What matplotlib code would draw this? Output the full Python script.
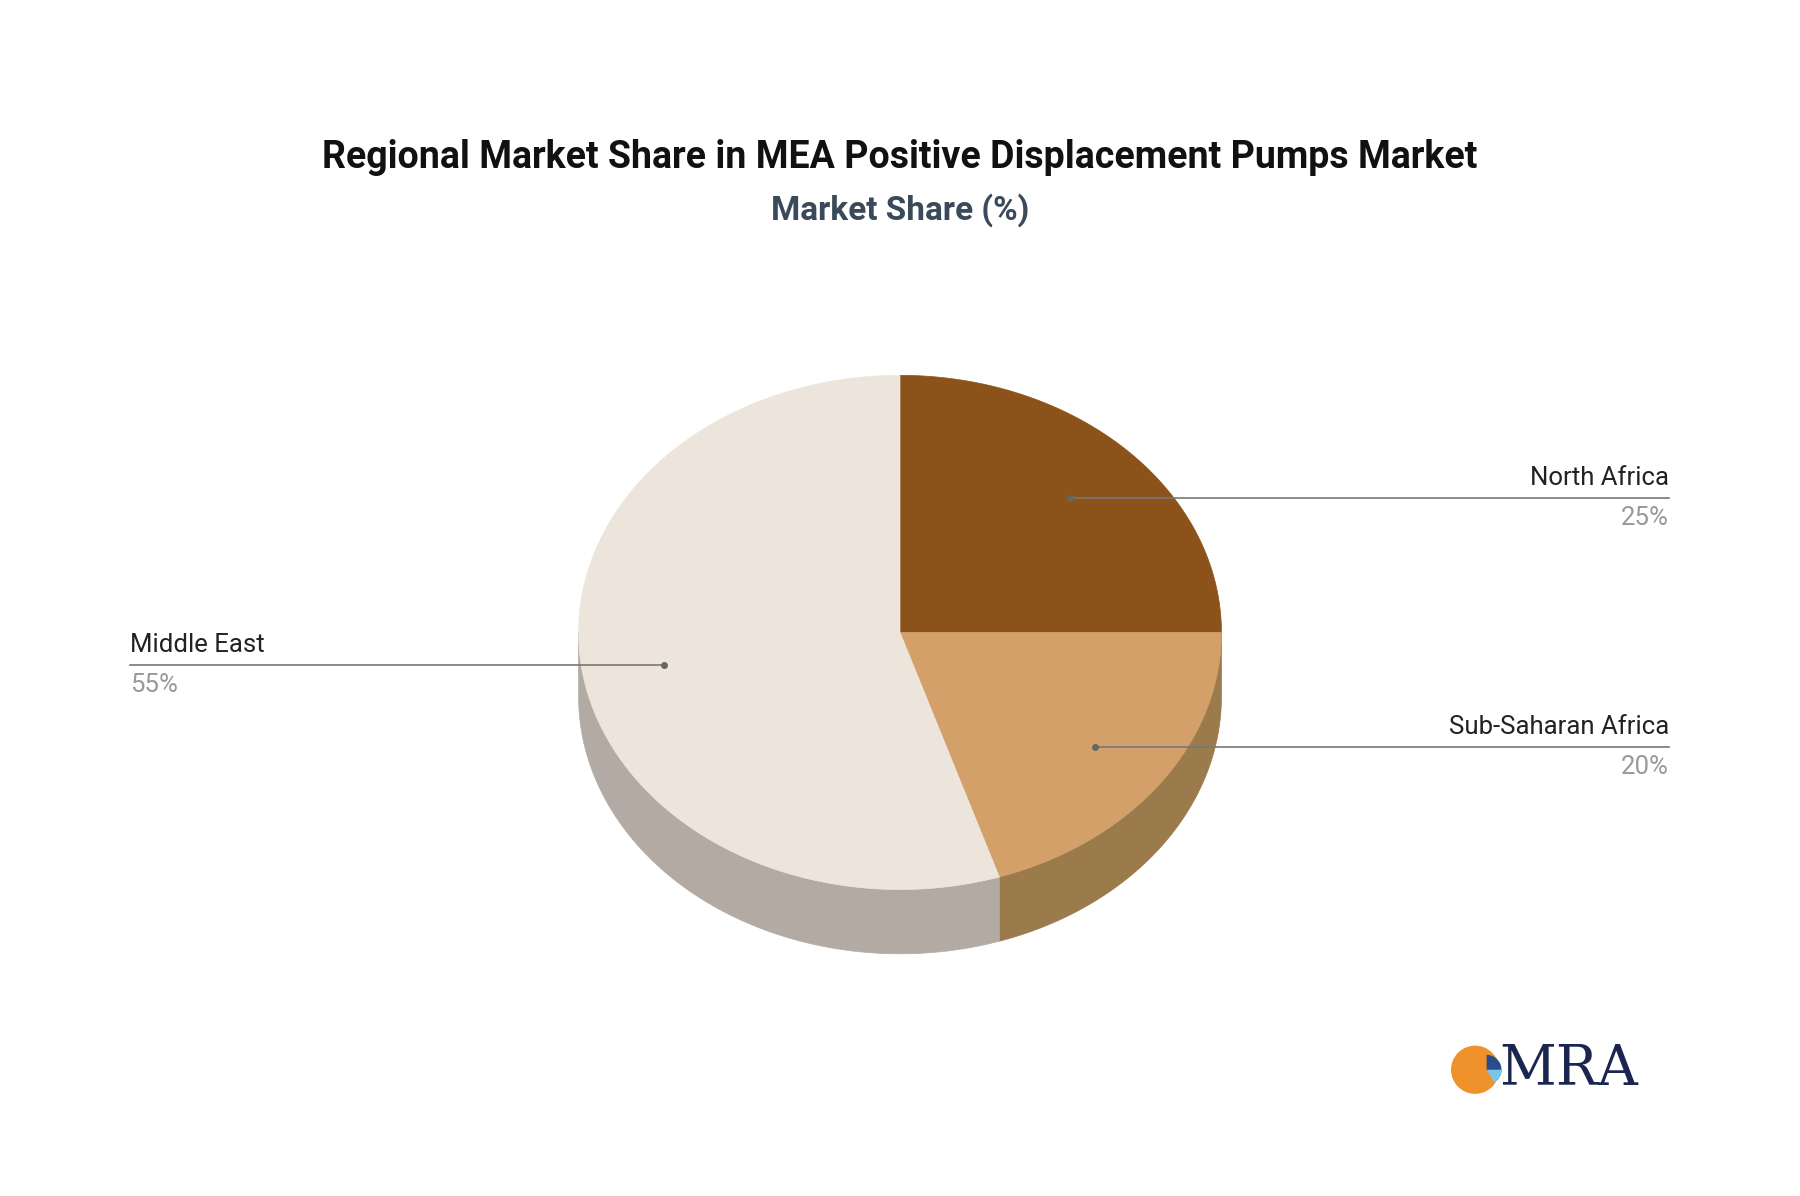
import numpy as np
import matplotlib
matplotlib.use("Agg")
import matplotlib.pyplot as plt
from matplotlib.patches import Polygon, Wedge

regions = ["North Africa", "Sub-Saharan Africa", "Middle East"]
shares = [25, 20, 55]
top_colors = ["#8B5319", "#D2A068", "#EDE5DC"]
side_colors = ["#7A4A18", "#9B7A4C", "#B3ABA3"]

W, H = 1568, 1042
fig = plt.figure(figsize=(18, 11.96), dpi=100)
ax = fig.add_axes([0, 0, 1, 1])
ax.set_xlim(0, W); ax.set_ylim(H, 0); ax.axis("off")
plt.rcParams['font.family'] = ['Roboto', 'DejaVu Sans']

cx, cy, rx, ry, depth = 784, 551, 280, 224, 56

def pt(a, dy=0):
    r = np.radians(a)
    return cx + rx*np.cos(r), cy - ry*np.sin(r) + dy

bounds = []
start = 90.0
for s in shares:
    end = start - 360*s/100
    bounds.append((start, end))
    start = end

for (a0, a1), c in zip(bounds, side_colors):
    for off in (0, -360):
        lo, hi = max(a1+off, -180), min(a0+off, 0)
        if lo < hi:
            ang = np.linspace(hi, lo, 100)
            top = [pt(a) for a in ang]
            bot = [pt(a, depth) for a in ang[::-1]]
            ax.add_patch(Polygon(top+bot, closed=True, fc=c, ec=c, lw=0.5))

for (a0, a1), c in zip(bounds, top_colors):
    ang = np.linspace(a0, a1, 200)
    pts = [(cx, cy)] + [pt(a) for a in ang]
    ax.add_patch(Polygon(pts, closed=True, fc=c, ec=c, lw=0.5))

label_info = [
    ((932, 434), 1454, "right"),
    ((954, 651), 1454, "right"),
    ((578, 579), 113, "left"),
]
for (name, s), ((dx, dy), lx, ha) in zip(zip(regions, shares), label_info):
    ax.plot([dx, lx], [dy, dy], color="#777777", lw=1.2)
    ax.plot(dx, dy, 'o', color="#666666", ms=4)
    ax.text(lx, dy-7, name, ha=ha, va="bottom", fontsize=18.5, color="#222222")
    ax.text(lx, dy+7, f"{s}%", ha=ha, va="top", fontsize=18.5, color="#999999")

ax.text(784, 137, "Regional Market Share in MEA Positive Displacement Pumps Market",
        ha="center", va="center", fontsize=27, fontweight="bold", color="#111111")
ax.text(784, 183, "Market Share (%)", ha="center", va="center", fontsize=24,
        fontweight="bold", color="#3B4A5A")

ax.add_patch(Wedge((1285, 932), 21, 0, 360, fc="#F0922B", ec="none"))
ax.add_patch(Wedge((1295, 932), 13, -90, 45, fc="#2B4C8C", ec="none"))
ax.add_patch(Wedge((1295, 932), 13, 0, 60, fc="#7CC4E8", ec="none"))
ax.text(1306, 932, "MRA", ha="left", va="center", fontsize=40, family="DejaVu Serif",
        color="#1B2650")

fig.savefig("out.png", dpi=100, facecolor="white")
